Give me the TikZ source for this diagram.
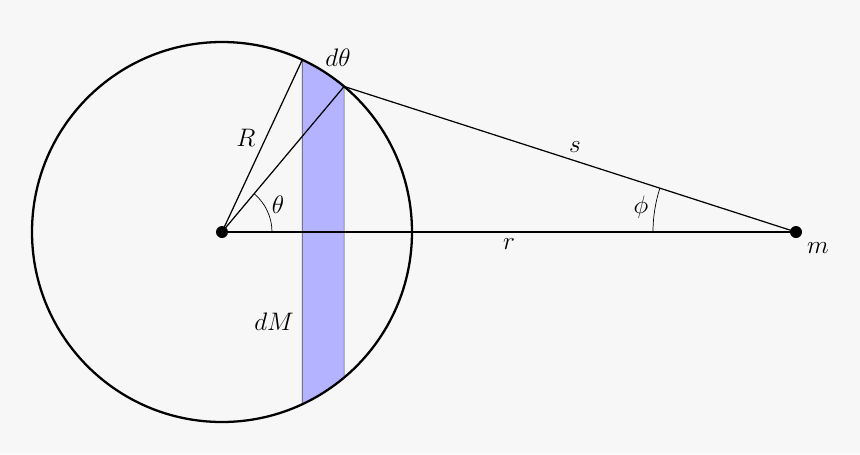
\documentclass[tikz,border=0pt]{standalone}
\usetikzlibrary{calc}
\definecolor{bggray}{HTML}{f7f7f7}
\definecolor{stripblue}{HTML}{b3b3ff}

\begin{document}
\begin{tikzpicture}[x=1cm, y=1cm]
    \fill[bggray] (-4.44, -4.44) rectangle (12.76, 4.64);
    \useasboundingbox (-4.44, -4.44) rectangle (12.76, 4.64);
    \begin{scope}[dot/.style={circle, fill=black, inner sep=0pt, minimum size=0.24cm}, line width=0.7pt]

        \coordinate (o) at (0, 0);
        \coordinate (pa) at (65:3.8);
        \coordinate (pb) at (50:3.8);
        \coordinate (pc) at (-50:3.8);
        \coordinate (pd) at (-65:3.8);

        % the strip dM
        \filldraw[fill=stripblue, draw=black!70, line width=0.4pt]
            (pa) arc[start angle=65, end angle=50, radius=3.8] -- (pc)
            arc[start angle=-50, end angle=-65, radius=3.8] -- cycle;

        \draw[line width=1.3pt] (o) circle[radius=3.8];

        \node[dot] (c) at (o) {};
        \node[dot] (m) at (11.48, 0) {};

        \draw (c.center) -- (pa);
        \draw (c.center) -- (pb);
        \draw (pb) -- (m.center);
        \draw (c.center) -- (m.center);

        \begin{scope}[line width=0.4pt]
        \draw (1, 0) arc[start angle=0, end angle=50, radius=1];
        \draw ($(m.center)+(180:2.86)$) arc[start angle=180, end angle=162.2, radius=2.86];
        \end{scope}

        \node (lR) at (0.48, 1.88) {\Large $R$};
        \node (lth) at (1.12, 0.54) {\Large $\theta$};
        \node (ldth) at (2.32, 3.48) {\Large $d\theta$};
        \node (ls) at (7.06, 1.7) {\Large $s$};
        \node (lphi) at (8.38, 0.5) {\Large $\phi$};
        \node (lr) at (5.74, -0.24) {\Large $r$};
        \node (lm) at (11.92, -0.32) {\Large $m$};
        \node (ldM) at (1.04, -1.8) {\Large $dM$};
    \end{scope}
\end{tikzpicture}
\end{document}
